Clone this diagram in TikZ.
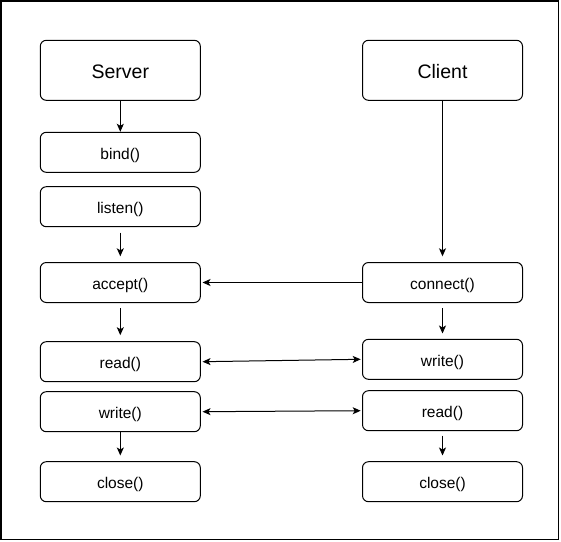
\documentclass[tikz,border=0pt]{standalone}
\usepackage{fontspec}
\setmainfont{Liberation Sans}
\usetikzlibrary{arrows.meta}
\begin{document}
\begin{tikzpicture}[x=1pt,y=-1pt,
  box/.style={draw=black, line width=1pt, rounded corners=6pt, minimum width=160pt, minimum height=40pt, inner sep=0pt, font=\fontsize{15.5}{18}\selectfont, text height=14.4pt, text depth=0pt},
  bigbox/.style={box, minimum height=60pt, font=\fontsize{19.5}{23}\selectfont, text height=15.8pt},
  arr/.style={line width=1pt, -{Stealth[length=8pt,width=7pt,inset=2pt]}},
  darr/.style={line width=1pt, {Stealth[length=8pt,width=7pt,inset=2pt]}-{Stealth[length=8pt,width=7pt,inset=2pt]}}]
\useasboundingbox (0,0) rectangle (561,541);
\draw[line width=1.2pt] (1,1) rectangle (558.5,539.8);
% server column
\node[bigbox] (server) at (120.3,70.3) {Server};
\node[box] (bind) at (120.3,152.3) {bind()};
\node[box] (listen) at (120.3,206.7) {listen()};
\node[box] (accept) at (120.3,282.5) {accept()};
\node[box] (sread) at (120.3,361.7) {read()};
\node[box] (swrite) at (120.3,411.7) {write()};
\node[box] (sclose) at (120.3,481.7) {close()};
% client column
\node[bigbox] (client) at (442.5,70.3) {Client};
\node[box] (connect) at (442.5,282.5) {connect()};
\node[box] (cwrite) at (442.5,359.3) {write()};
\node[box] (cread) at (442.5,410.7) {read()};
\node[box] (cclose) at (442.5,481.7) {close()};
% vertical arrows
\draw[arr] (server) -- (bind);
\draw[arr, shorten <=5.3pt, shorten >=5.7pt] (listen) -- (accept);
\draw[arr, shorten <=5.4pt, shorten >=6pt] (accept) -- (sread);
\draw[arr, shorten >=5.7pt] (swrite) -- (sclose);
\draw[arr, shorten >=5.7pt] (client) -- (connect);
\draw[arr, shorten <=5.4pt, shorten >=5.3pt] (connect) -- (cwrite);
\draw[arr, shorten <=4.3pt, shorten >=5.7pt] (cread) -- (cclose);
% horizontal arrows
\draw[arr, shorten >=1.7pt] (connect.west) -- (accept.east);
\draw[darr] ([xshift=1.7pt]sread.east) -- ([xshift=-1.3pt]cwrite.west);
\draw[darr] ([xshift=1.7pt]swrite.east) -- ([xshift=-1.3pt]cread.west);
\end{tikzpicture}
\end{document}
